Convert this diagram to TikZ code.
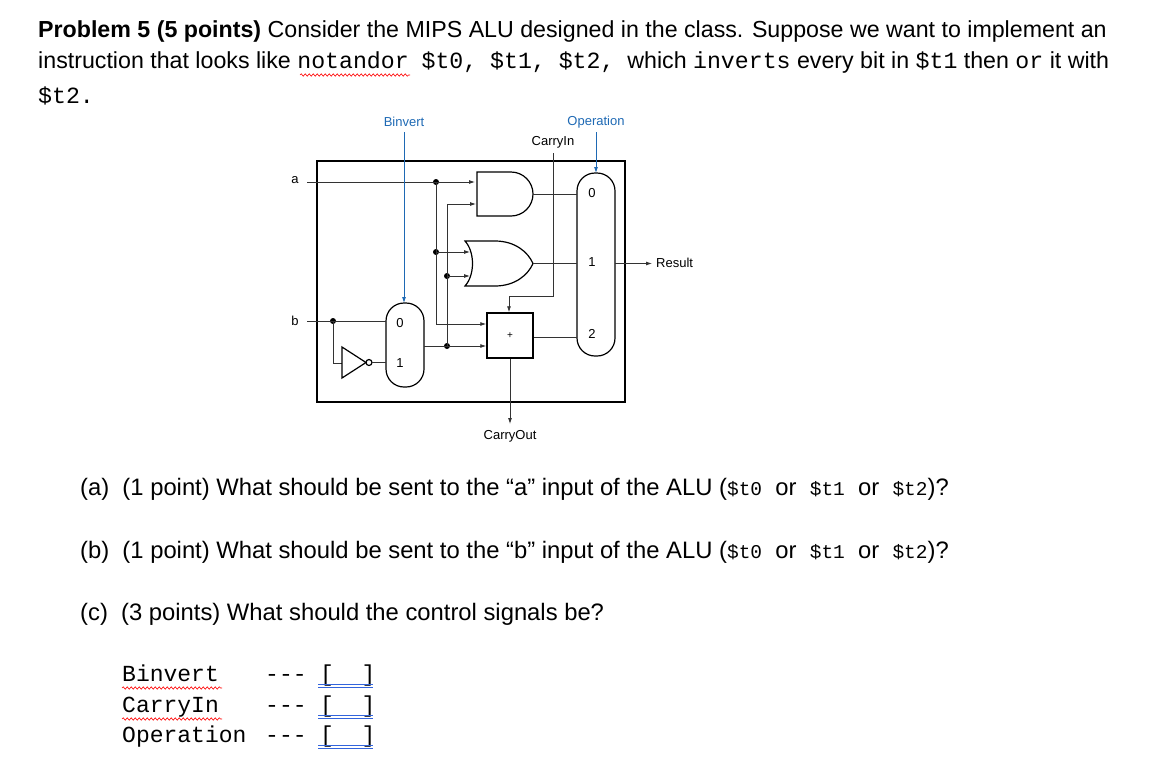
\documentclass[tikz,border=0pt]{standalone}
\usepackage{fontspec}
\setmainfont{Liberation Sans}
\setmonofont{Liberation Mono}
\usetikzlibrary{arrows.meta,decorations.pathmorphing}
\definecolor{blu}{RGB}{30,105,180}
\definecolor{ulb}{RGB}{50,100,220}
\newcommand{\mq}[1]{{\fontsize{19.5}{24}\selectfont\texttt{#1}}}
\begin{document}
\begin{tikzpicture}[x=1pt,y=-1pt,
  wire/.style={draw=black!80,line width=0.8pt},
  arr/.style={wire,-{Latex[length=6pt,width=4pt]}},
  sm/.style={font=\fontsize{13}{15}\selectfont,inner sep=0pt},
  big/.style={font=\fontsize{23.2}{28}\selectfont,inner sep=0pt,anchor=base west},
  qq/.style={font=\fontsize{23.8}{28}\selectfont,inner sep=0pt,anchor=base west},
  code/.style={font=\ttfamily\fontsize{23}{28}\selectfont,inner sep=0pt,anchor=base west},
  mux/.style={draw,line width=1.2pt,rounded corners=18pt},
  squig/.style={draw=red,line width=0.6pt,decorate,decoration={snake,amplitude=1.2pt,segment length=4pt}}]
\useasboundingbox (0,0) rectangle (1149,761);
% header text
\node[big] (t1) at (38,37) {\textbf{Problem 5 (5 points)} Consider the MIPS ALU designed in the class. Suppose we want to implement an};
\node[big] (t2) at (38,68) {instruction that looks like \texttt{notandor}\ \ \texttt{\$t0,}\ \ \texttt{\$t1,}\ \ \texttt{\$t2,}\ \ which \texttt{inverts} every bit in \texttt{\$t1} then \texttt{or} it with};
\node[big] (t3) at (38,103) {\texttt{\$t2.}};
\draw[squig] (300,75) -- (410,75);
% box
\draw[line width=1.5pt] (317,161) rectangle (625,402);
% gates
\draw[line width=1.2pt] (477,172) -- (511,172) arc[start angle=-90,end angle=90,radius=22] -- (477,216) -- cycle;
\draw[line width=1.2pt] (465,241) -- (495,241) .. controls (515,241) and (528,252) .. (533,263.5) .. controls (528,275) and (515,286) .. (495,286) -- (465,286) .. controls (475,275) and (475,252) .. (465,241) -- cycle;
\node[draw,line width=1.5pt,minimum width=46pt,minimum height=45pt,inner sep=0pt,font=\fontsize{10}{12}\selectfont] (add) at (510,335.5) {+};
\draw[mux] (577,173) rectangle (615,356);
\draw[mux] (386,303) rectangle (424,387);
\node[sm] (r0) at (592,193) {0};
\node[sm] (r1) at (592,262) {1};
\node[sm] (r2) at (592,334) {2};
\node[sm] (b0) at (400,323) {0};
\node[sm] (b1) at (400,363) {1};
% labels
\node[sm] (la) at (295,180) {a};
\node[sm] (lb) at (295,321) {b};
\node[sm,text=blu] (lbin) at (404,122) {Binvert};
\node[sm,text=blu] (lop) at (596,122) {Operation};
\node[sm] (lci) at (553,142) {CarryIn};
\node[sm] (lco) at (510,436) {CarryOut};
\node[sm,anchor=west] (lres) at (656,263) {Result};
% coordinates
\coordinate (da) at (436,182);
\coordinate (da2) at (436,252);
\coordinate (db) at (447,276);
\coordinate (db2) at (447,346);
\coordinate (dbb) at (333,321);
\fill (da) circle (3) (da2) circle (3) (db) circle (3) (db2) circle (3) (dbb) circle (3);
% wires
\draw[arr] (307,182) -- (475,182);
\draw[arr] (da2) -- (470,252);
\draw[arr] (db) -- (470,276);
\draw[wire] (da) -- (436,324);
\draw[arr] (436,324) -- (add.west |- 0,324);
\draw[arr] (447,346) |- (476,204);
\draw[arr] (db2) -- (add.west |- 0,346);
\draw[wire] (424,346) -- (db2);
\draw[arr] (553,153) -- (553,296) -- (509,296) -- (add.north -| 509,0);
\draw[arr] (add.south) -- (510,424);
\draw[wire] (533,194) -- (577,194);
\draw[wire] (533,263.5) -- (577,263.5);
\draw[wire] (add.east |- 0,337) -- (577,337);
\draw[arr] (615,263.5) -- (652,263.5);
\draw[draw=blu,line width=0.8pt,-{Latex[length=6pt,width=4pt]}] (596,132) -- (596,173);
\draw[draw=blu,line width=0.8pt,-{Latex[length=6pt,width=4pt]}] (404,132) -- (404,303);
\draw[wire] (307,321) -- (386,321);
\draw[wire] (dbb) |- (342,363);
\draw[line width=1.2pt] (342,347) -- (366,362.5) -- (342,378) -- cycle;
\draw[line width=1.2pt] (369,362.5) circle (3);
\draw[wire] (372,362.5) -- (386,362.5);
% questions
\node[qq] (qa) at (80,495) {(a)\ \ (1 point) What should be sent to the “a” input of the ALU (\mq{\$t0}\ \ or\ \ \mq{\$t1}\ \ or\ \ \mq{\$t2})?};
\node[qq] (qb) at (80,558) {(b)\ \ (1 point) What should be sent to the “b” input of the ALU (\mq{\$t0}\ \ or\ \ \mq{\$t1}\ \ or\ \ \mq{\$t2})?};
\node[qq] (qc) at (80,620) {(c)\ \ (3 points) What should the control signals be?};
\foreach \n/\y in {Binvert/681,CarryIn/712,Operation/742}{
  \node[code] at (122,\y) {\n};
  \node[code] at (265,\y) {---};
  \node[code] at (320,\y) {[\ \ ]};
  \draw[ulb,line width=0.8pt] (318,\y+3) -- (373,\y+3) (318,\y+6) -- (373,\y+6);
}
\draw[squig] (122,688) -- (222,688);
\draw[squig] (122,719) -- (222,719);
\end{tikzpicture}
\end{document}
